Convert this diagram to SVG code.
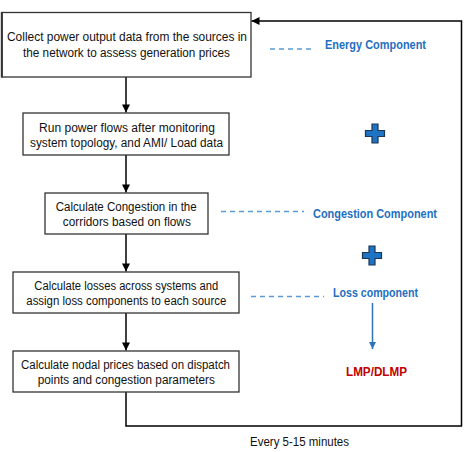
<svg xmlns="http://www.w3.org/2000/svg" width="474" height="452" viewBox="0 0 474 452">
<style>
.box{fill:#fff;stroke:#333;stroke-width:1.3}
.t{font-family:"Liberation Sans",Arial,sans-serif;font-size:12px;fill:#111;text-anchor:middle}
.lbl{font-family:"Liberation Sans",Arial,sans-serif;font-size:12px;font-weight:bold;fill:#1f6fbf;text-anchor:middle}
.red{fill:#c00000}
.conn{fill:none;stroke:#000;stroke-width:1.5}
.dash{fill:none;stroke:#5b9bd5;stroke-width:1.4;stroke-dasharray:5 4}
.plus{fill:#1f73c4;stroke:#1b3553;stroke-width:1.2}
</style>
<defs>
<marker id="ah" viewBox="0 0 10 10" refX="10" refY="5" markerWidth="10" markerHeight="8" markerUnits="userSpaceOnUse" orient="auto" overflow="visible">
<path d="M0,0 L10,5 L0,10 Z" fill="#000"/>
</marker>
<marker id="ahb" viewBox="0 0 10 10" refX="10" refY="5" markerWidth="8" markerHeight="7" orient="auto" markerUnits="userSpaceOnUse">
<path d="M0,0 L10,5 L0,10 Z" fill="#2e75b6"/>
</marker>
</defs>
<rect width="474" height="452" fill="#fff"/>

<g id="connectors">
<line class="conn" x1="126" y1="77" x2="126" y2="112.5" marker-end="url(#ah)"/>
<line class="conn" x1="126" y1="155" x2="126" y2="192.5" marker-end="url(#ah)"/>
<line class="conn" x1="126" y1="234" x2="126" y2="271.5" marker-end="url(#ah)"/>
<line class="conn" x1="126" y1="313" x2="126" y2="350.5" marker-end="url(#ah)"/>
<polyline class="conn" points="126,392 126,426 461.5,426 461.5,21 251.5,21" marker-end="url(#ah)"/>
<line class="dash" x1="270" y1="49" x2="314" y2="49"/>
<line class="dash" x1="221" y1="211.5" x2="304" y2="211.5"/>
<line class="dash" x1="251" y1="296.5" x2="324" y2="296.5"/>
<line x1="372.5" y1="303" x2="372.5" y2="349" stroke="#2e75b6" stroke-width="1.5" marker-end="url(#ahb)"/>
</g>

<g id="node1">
<rect class="box" x="2" y="12.5" width="249" height="64.5"/>
<line x1="1.8" y1="12" x2="1.8" y2="77.5" stroke="#333" stroke-width="2"/>
<text class="t" x="127" y="41" textLength="240" lengthAdjust="spacingAndGlyphs">Collect power output data from the sources in</text>
<text class="t" x="126.5" y="56.5" textLength="207" lengthAdjust="spacingAndGlyphs">the network to assess generation prices</text>
</g>

<g id="node2">
<rect class="box" x="23" y="113" width="206" height="42"/>
<text class="t" x="127" y="132" textLength="176" lengthAdjust="spacingAndGlyphs">Run power flows after monitoring</text>
<text class="t" x="126.5" y="147" textLength="193" lengthAdjust="spacingAndGlyphs">system topology, and AMI/ Load data</text>
</g>

<g id="node3">
<rect class="box" x="45" y="193" width="163" height="41"/>
<text class="t" x="126.2" y="211" textLength="141" lengthAdjust="spacingAndGlyphs">Calculate Congestion in the</text>
<text class="t" x="126.8" y="226" textLength="128" lengthAdjust="spacingAndGlyphs">corridors based on flows</text>
</g>

<g id="node4">
<rect class="box" x="13" y="272" width="226" height="41"/>
<text class="t" x="126.3" y="290" textLength="184" lengthAdjust="spacingAndGlyphs">Calculate losses across systems and</text>
<text class="t" x="126.3" y="305" textLength="200" lengthAdjust="spacingAndGlyphs">assign loss components to each source</text>
</g>

<g id="node5">
<rect class="box" x="13" y="351" width="226" height="41"/>
<text class="t" x="125.5" y="368.5" textLength="209" lengthAdjust="spacingAndGlyphs">Calculate nodal prices based on dispatch</text>
<text class="t" x="126.3" y="384" textLength="177" lengthAdjust="spacingAndGlyphs">points and congestion parameters</text>
</g>

<g id="labels">
<text class="lbl" x="375.5" y="48.5" textLength="101" lengthAdjust="spacingAndGlyphs">Energy Component</text>
<text class="lbl" x="375" y="217.5" textLength="124" lengthAdjust="spacingAndGlyphs">Congestion Component</text>
<text class="lbl" x="375.5" y="297" textLength="85" lengthAdjust="spacingAndGlyphs">Loss component</text>
<text class="lbl red" x="376.5" y="376" textLength="61" lengthAdjust="spacingAndGlyphs">LMP/DLMP</text>
<text class="t" x="299.5" y="446" textLength="99" lengthAdjust="spacingAndGlyphs">Every 5-15 minutes</text>
</g>

<g id="plus1">
<path class="plus" d="M372,124 h6 v6.5 h6.5 v6 h-6.5 v6.5 h-6 v-6.5 h-6.5 v-6 h6.5 z"/>
</g>
<g id="plus2">
<path class="plus" d="M369,246 h6 v6.5 h6.5 v6 h-6.5 v6.5 h-6 v-6.5 h-6.5 v-6 h6.5 z"/>
</g>
</svg>
